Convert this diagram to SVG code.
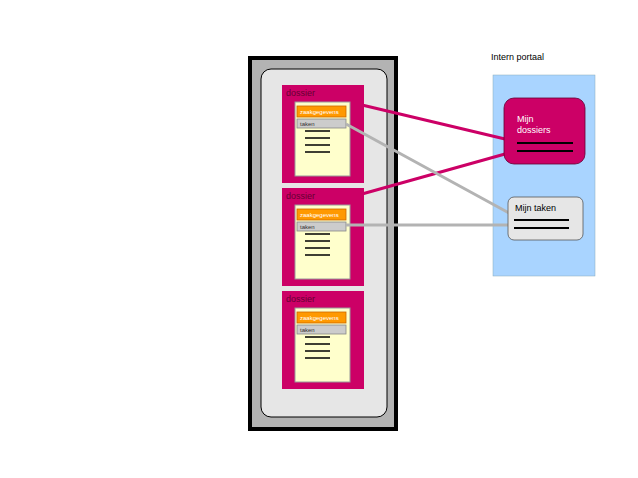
<svg xmlns="http://www.w3.org/2000/svg" width="638" height="478" viewBox="0 0 638 478">
<style>
.d{fill:#cc0066}
.dt{font:9px "Liberation Sans",Arial,sans-serif;fill:#660033}
.p{fill:#ffffcc;stroke:#999;stroke-width:1}
.z{fill:#ff9900;stroke:#cc6600;stroke-width:.8}
.zt{font:6px "Liberation Sans",Arial,sans-serif;fill:#fff}
.t{fill:#ccc;stroke:#888;stroke-width:.8}
.tt{font:6px "Liberation Sans",Arial,sans-serif;fill:#333}
.l{stroke:#000;stroke-width:1.3}
</style>
<rect width="638" height="478" fill="#fff"/>
<g id="frame">
<rect x="250" y="58" width="146" height="371" fill="#b3b3b3" stroke="#000" stroke-width="4"/>
<rect x="261" y="69" width="126" height="348" rx="10" fill="#e6e6e6" stroke="#000" stroke-width="1"/>
</g>
<g id="dossier1" transform="translate(0,0)">
<rect class="d" x="282" y="85" width="82" height="98"/>
<text class="dt" x="286" y="96">dossier</text>
<rect class="p" x="295" y="102" width="55" height="74"/>
<rect class="z" x="297" y="106" width="49" height="11"/><text class="zt" x="300" y="114">zaakgegevens</text>
<rect class="t" x="297" y="119" width="49" height="9"/><text class="tt" x="300" y="126">taken</text>
<path class="l" d="M305 131H330M305 138H330M305 145H330M305 152H330"/>
</g>
<g id="dossier2" transform="translate(0,103)">
<rect class="d" x="282" y="85" width="82" height="98"/>
<text class="dt" x="286" y="96">dossier</text>
<rect class="p" x="295" y="102" width="55" height="74"/>
<rect class="z" x="297" y="106" width="49" height="11"/><text class="zt" x="300" y="114">zaakgegevens</text>
<rect class="t" x="297" y="119" width="49" height="9"/><text class="tt" x="300" y="126">taken</text>
<path class="l" d="M305 131H330M305 138H330M305 145H330M305 152H330"/>
</g>
<g id="dossier3" transform="translate(0,206)">
<rect class="d" x="282" y="85" width="82" height="98"/>
<text class="dt" x="286" y="96">dossier</text>
<rect class="p" x="295" y="102" width="55" height="74"/>
<rect class="z" x="297" y="106" width="49" height="11"/><text class="zt" x="300" y="114">zaakgegevens</text>
<rect class="t" x="297" y="119" width="49" height="9"/><text class="tt" x="300" y="126">taken</text>
<path class="l" d="M305 131H330M305 138H330M305 145H330M305 152H330"/>
</g>
<g id="portaal">
<text x="491" y="60" font-family="Liberation Sans,Arial,sans-serif" font-size="9" fill="#000">Intern portaal</text>
<rect x="493" y="75" width="102" height="201" fill="#a9d4ff" stroke="#8ab" stroke-width=".5"/>
</g>
<g id="connectors" fill="none">
<path d="M362 105L505 139M362 194L505 154" stroke="#cc0066" stroke-width="3"/>
<path d="M346 124L509 213M346 225L509 225" stroke="#b3b3b3" stroke-width="3"/>
</g>
<g id="mijndossiers">
<rect x="504" y="98" width="81" height="66" rx="10" fill="#cc0066" stroke="#660033" stroke-width=".8"/>
<text x="517" y="122" font-family="Liberation Sans,Arial,sans-serif" font-size="9" fill="#fff">Mijn</text>
<text x="517" y="133" font-family="Liberation Sans,Arial,sans-serif" font-size="9" fill="#fff">dossiers</text>
<path d="M517 143H573M517 151H573" stroke="#000" stroke-width="2"/>
</g>
<g id="mijntaken">
<rect x="508" y="197" width="75" height="43" rx="6" fill="#e6e6e6" stroke="#555" stroke-width=".8"/>
<text x="515" y="211" font-family="Liberation Sans,Arial,sans-serif" font-size="9" fill="#000">Mijn taken</text>
<path d="M514 220H569M514 228H569" stroke="#000" stroke-width="2"/>
</g>
</svg>
